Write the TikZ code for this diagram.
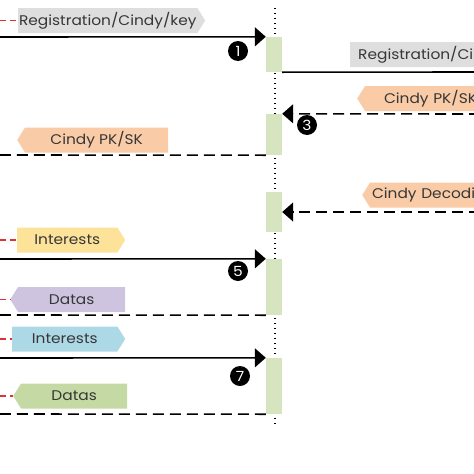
\documentclass[tikz,border=0pt]{standalone}
\usepackage{fontspec}
\setmainfont{Poppins}[FakeStretch=1.1]
\usetikzlibrary{arrows.meta,shapes.symbols}
\definecolor{actgreen}{RGB}{214,228,191}
\definecolor{tagray}{RGB}{222,222,222}
\definecolor{tapeach}{RGB}{249,203,167}
\definecolor{tayellow}{RGB}{253,227,154}
\definecolor{tapurple}{RGB}{206,196,224}
\definecolor{tablue}{RGB}{173,217,230}
\definecolor{tagreen}{RGB}{197,217,165}
\definecolor{dashred}{RGB}{224,48,58}
\definecolor{inkgray}{RGB}{55,55,55}

\begin{document}
\begin{tikzpicture}[x=1pt,y=-1pt,
    act/.style={fill=actgreen,minimum width=16pt,inner sep=0pt},
    tag/.style={signal,signal pointer angle=116,inner sep=0pt,
      minimum height=25pt,font=\fontsize{14}{14}\selectfont,text=inkgray},
    toright/.style={tag,signal to=east,anchor=west},
    toleft/.style={tag,signal to=west,anchor=west},
    cutoff/.style={text width=220pt,align=left},
    msg/.style={line width=1.6pt,-{Triangle[length=11pt,width=19pt]}},
    reply/.style={line width=1.6pt,dash pattern=on 11pt off 6pt},
    replyarr/.style={reply,-{Triangle[length=11pt,width=19pt]}},
    reddash/.style={dashred,line width=1.4pt,dash pattern=on 6pt off 3.5pt},
    num/.style={circle,fill=black,text=white,minimum size=20pt,inner sep=0pt,
      font=\fontsize{14}{14}\selectfont}
  ]
    \clip (0,0) rectangle (474,474);
    \useasboundingbox (0,0) rectangle (474,474);

    % lifeline
    \coordinate (top) at (275,8);
    \coordinate (bot) at (275,424);
    \draw[line width=1.3pt,dash pattern=on 1.3pt off 3.7pt] (top) -- (bot);

    % activations
    \node[act,minimum height=35pt] (a1) at (274,54.5) {};
    \node[act,minimum height=41pt] (a2) at (274,134.5) {};
    \node[act,minimum height=40pt] (a3) at (274,212) {};
    \node[act,minimum height=56pt] (a4) at (274,287) {};
    \node[act,minimum height=56pt] (a5) at (274,386) {};

    % free ends
    \coordinate (in1) at (0,37);
    \coordinate (out2) at (480,72);
    \coordinate (in3) at (480,114);
    \coordinate (out4) at (0,155);
    \coordinate (in5) at (480,212);
    \coordinate (in6) at (0,259);
    \coordinate (out7) at (0,315);
    \coordinate (in8) at (0,358);
    \coordinate (out9) at (0,414);

    % labels
    \node[toright,fill=tagray,minimum width=187pt] (l1) at (18,20.5) {Registration/Cindy/key};
    \node[toright,fill=tagray,cutoff] (l2) at (350,54.5) {\hspace{8pt}Registration/Cindy/key};
    \node[toleft,fill=tapeach,cutoff] (l3) at (357,98.5) {\hspace{19pt}Cindy PK/SK};
    \node[toleft,fill=tapeach,minimum width=151pt] (l4) at (17,140) {Cindy PK/SK};
    \node[toleft,fill=tapeach,cutoff] (l5) at (362,195) {\hspace{2pt}Cindy Decoding};
    \node[toright,fill=tayellow,minimum width=108pt] (l6) at (17,240) {Interests};
    \node[toleft,fill=tapurple,minimum width=115pt] (l7) at (10,299.5) {Datas};
    \node[toright,fill=tablue,minimum width=113pt] (l8) at (12,339) {Interests};
    \node[toleft,fill=tagreen,minimum width=114pt] (l9) at (13,396) {Datas};

    \coordinate (r1) at (0,20.5);
    \coordinate (r6) at (0,240);
    \coordinate (r7) at (0,299.5);
    \coordinate (r8) at (0,339);
    \coordinate (r9) at (0,396);
    \draw[reddash] (r1) -- (l1.west);
    \draw[reddash] (r6) -- (l6.west);
    \draw[reddash] (r7) -- (l7.west);
    \draw[reddash] (r8) -- (l8.west);
    \draw[reddash] (r9) -- (l9.west);

    % messages
    \draw[msg] (in1) -- (a1.north west);
    \draw[line width=1.6pt] (a1.south east) -- (out2);
    \draw[replyarr] (in3) -- (a2.north east);
    \draw[reply] (a2.south west) -- (out4);
    \draw[replyarr] (in5) -- (a3.east);
    \draw[msg] (in6) -- (a4.north west);
    \draw[reply] (a4.south west) -- (out7);
    \draw[msg] (in8) -- (a5.north west);
    \draw[reply] (a5.south west) -- (out9);

    % step numbers
    \node[num] (n1) at (238,51) {1};
    \node[num] (n3) at (307,125) {3};
    \node[num] (n5) at (238,271) {5};
    \node[num] (n7) at (240,376) {7};
  \end{tikzpicture}
\end{document}
